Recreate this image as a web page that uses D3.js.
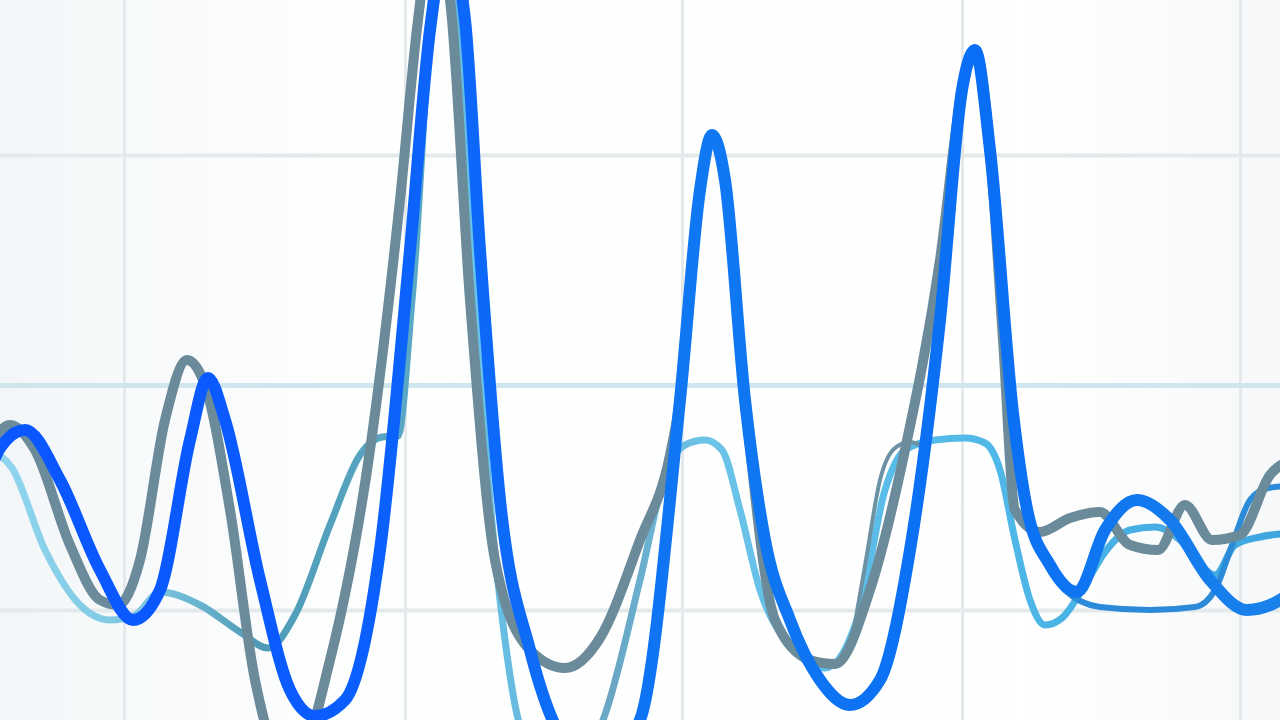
<!DOCTYPE html>
<html>
<head>
<meta charset="utf-8">
<script src="https://cdn.jsdelivr.net/npm/d3@7"></script>
<style>
  html, body { margin: 0; padding: 0; background: #ffffff; overflow: hidden; }
  svg { display: block; }
</style>
</head>
<body>
<svg id="chart" width="1280" height="720"></svg>
<script>
// ---- data (x in time units, y in value units) ----
const gridX = [12.4, 40.5, 68.2, 96.2, 124];
const gridY = [11, 33.5, 56.5];

const seriesBlueX  = [-1,0,2.5,6,10,13.3,16,19,20.8,22.5,26,29,31.5,34.5,38,41,43,44.7,46.5,48,50,53,56,60,64,68,70,71.2,72.5,74.5,76.5,79,82,85,88,91,94,96.2,97.5,99,101.3,102.7,105,107.7,110.5,113.7,117,121,124.7,128,129];
const seriesBlueY  = [25,27.2,29,24,15,10,13,28,34.2,30,14,3,0.4,2,17,47,69,78,70,47,22,7,-1.5,-5,0,32,53,58.5,54,32,18,10,4,1.5,4,17,40,63,67,57,30.7,21.1,15.5,12.8,19,22,20,14,11,12,12.8];

const seriesGrayX  = [-1,1,3.5,7,10,11.8,14,16.5,18.7,20.5,23,25.5,27.5,30,33,37,40,41.8,43.2,45,47,49.5,53,56.5,60,64,67,68,70,71.2,72.5,74.5,77.5,81,83.5,87,90.5,94,96.2,97.5,99,100.3,101.5,104,107,110,113,115.8,118.5,121.2,124,127,129];
const seriesGrayY  = [27.5,29.5,27,17.5,12,11.5,16,30,36,33.5,21,4,-2.5,-3,6,27,52,70,79,72,42,16,7,5.2,8.2,18,26.5,32,53,58.5,54,32,10,6,5.6,13,27,46,63,67,57,38,21,18.8,20.2,20.8,17.5,17,21.5,18,18.5,24.5,26];

const seriesCyanX  = [-1,1.2,4.5,8,11,13.5,16,20,24,26.8,29.5,33,36,38.2,39.8,41.2,44,45.6,47.2,49,50.5,52,56,60.3,64,66.5,68.5,70.5,72.2,74,76,79,82.5,86,88.5,90.5,93.5,96.5,98.5,100,101.5,103,104.5,106.2,108.5,110.5,113,115.5,118,120,121.5,123.5,126,129];
const seriesCyanY  = [27,25.2,17,11.5,10,10.5,12.8,11.5,8.8,7.2,10.5,19.5,26.5,28.3,28.4,42,78,72,47,22,8,-0.5,-5.5,0,14,24.5,27.5,28,27,21,13,7.5,5.2,11,23,27,28,28.2,27.7,25,18,12,9.5,10.2,13.5,16.8,19,19.3,18,15.5,14.5,17.5,18.3,18.7];

const seriesSlateX = [85.2,86.6,88,89.5,91,92.2];
const seriesSlateY = [8,16,24,27.2,27.8,27.4];

const seriesMidX   = [102.7,104.2,106.5,110,115,119.5,121.5,123.2,125,126.8,129];
const seriesMidY   = [21.1,17,13,11.3,11,11.3,13,17.5,22,23.2,23.4];

// ---- setup ----
const W = 1280, H = 720;
const svg = d3.select("#chart");
const x = d3.scaleLinear().domain([0, 128]).range([0, W]);
const y = d3.scaleLinear().domain([0, 72]).range([H, 0]);

const defs = svg.append("defs");

// background wash
const bg = defs.append("linearGradient").attr("id", "bg").attr("x1", 0).attr("x2", 1).attr("y1", 0).attr("y2", 0);
bg.append("stop").attr("offset", 0).attr("stop-color", "#f3f6f8");
bg.append("stop").attr("offset", 0.25).attr("stop-color", "#fdfefe");
bg.append("stop").attr("offset", 0.8).attr("stop-color", "#ffffff");
bg.append("stop").attr("offset", 1).attr("stop-color", "#f6f8f9");
svg.append("rect").attr("width", W).attr("height", H).attr("fill", "url(#bg)");

function hGrad(id, stops) {
  const g = defs.append("linearGradient").attr("id", id)
    .attr("gradientUnits", "userSpaceOnUse")
    .attr("x1", 0).attr("x2", W).attr("y1", 0).attr("y2", 0);
  stops.forEach(s => g.append("stop").attr("offset", s[0]).attr("stop-color", s[1]));
}
hGrad("gBlue", [[0, "#0a56ff"], [0.25, "#0a5cff"], [0.55, "#1078f2"], [0.77, "#0a6ef5"], [1, "#1a82ea"]]);
hGrad("gCyan", [[0, "#8fd5ef"], [0.12, "#7cc6e0"], [0.2, "#4f9bb6"], [0.33, "#5aa9c6"], [0.37, "#66c3ea"], [0.48, "#6aa6c4"], [0.55, "#6cc3e8"], [0.78, "#4fb8e8"], [1, "#3ea6df"]]);

// ---- grid via axes ----
const gx = svg.append("g").attr("transform", `translate(0,${H})`)
  .call(d3.axisBottom(x).tickValues(gridX).tickSize(H).tickFormat(""));
gx.selectAll(".tick line")
  .attr("y2", -H).attr("stroke", "#e4e9eb").attr("stroke-width", 3);
gx.select(".domain").remove();

const gy = svg.append("g")
  .call(d3.axisLeft(y).tickValues(gridY).tickSize(-W).tickFormat(""));
gy.select(".domain").remove();
gy.selectAll(".tick line")
  .attr("stroke", d => d === 33.5 ? "#cfe6ef" : "#e4e9eb")
  .attr("stroke-width", d => d === 33.5 ? 5 : 4);

// ---- lines ----
const line = d3.line().x(d => x(d[0])).y(d => y(d[1])).curve(d3.curveMonotoneX);
const zip = (a, b) => a.map((v, i) => [v, b[i]]);

const series = [
  { xs: seriesCyanX,  ys: seriesCyanY,  color: "url(#gCyan)", w: 7 },
  { xs: seriesSlateX, ys: seriesSlateY, color: "#6d92a3",     w: 4 },
  { xs: seriesMidX,   ys: seriesMidY,   color: "#2b8bd8",     w: 6 },
  { xs: seriesGrayX,  ys: seriesGrayY,  color: "#6b8b9a",     w: 10 },
  { xs: seriesBlueX,  ys: seriesBlueY,  color: "url(#gBlue)", w: 12 }
];

svg.append("g").selectAll("path").data(series).join("path")
  .attr("d", s => line(zip(s.xs, s.ys)))
  .attr("fill", "none")
  .attr("stroke", s => s.color)
  .attr("stroke-width", s => s.w)
  .attr("stroke-linecap", "round")
  .attr("stroke-linejoin", "round");
</script>
</body>
</html>
